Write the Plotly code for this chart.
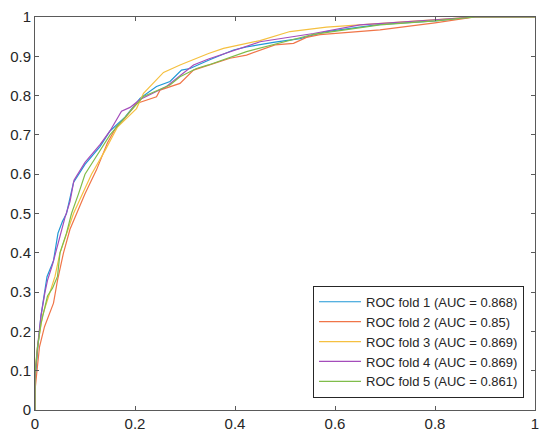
import plotly.graph_objects as go

fold1_fpr = [0, 0, 0.005, 0.012, 0.024, 0.03, 0.037, 0.046, 0.055, 0.063, 0.072, 0.077, 0.10, 0.13, 0.15, 0.18, 0.21, 0.243, 0.27, 0.293, 0.31, 0.347, 0.397, 0.423, 0.48, 0.53, 0.583, 0.69, 0.8, 0.88, 1.0]
fold1_tpr = [0, 0.07, 0.15, 0.24, 0.339, 0.36, 0.38, 0.45, 0.48, 0.50, 0.55, 0.579, 0.625, 0.67, 0.71, 0.745, 0.793, 0.823, 0.836, 0.865, 0.869, 0.89, 0.916, 0.924, 0.936, 0.945, 0.963, 0.981, 0.99, 1.0, 1.0]

fold2_fpr = [0, 0, 0.004, 0.009, 0.019, 0.03, 0.037, 0.045, 0.057, 0.07, 0.083, 0.10, 0.123, 0.145, 0.163, 0.177, 0.203, 0.243, 0.25, 0.29, 0.317, 0.39, 0.423, 0.48, 0.517, 0.543, 0.57, 0.69, 0.8, 0.88, 1.0]
fold2_tpr = [0, 0.05, 0.10, 0.161, 0.212, 0.25, 0.272, 0.33, 0.40, 0.46, 0.50, 0.55, 0.611, 0.68, 0.721, 0.738, 0.78, 0.797, 0.814, 0.831, 0.865, 0.895, 0.903, 0.929, 0.933, 0.948, 0.955, 0.967, 0.985, 1.0, 1.0]

fold3_fpr = [0, 0, 0.006, 0.015, 0.03, 0.04, 0.05, 0.064, 0.077, 0.095, 0.113, 0.14, 0.165, 0.203, 0.217, 0.257, 0.29, 0.347, 0.377, 0.45, 0.51, 0.583, 0.69, 0.8, 0.88, 1.0]
fold3_tpr = [0, 0.1, 0.17, 0.24, 0.30, 0.34, 0.40, 0.45, 0.50, 0.55, 0.60, 0.66, 0.72, 0.767, 0.806, 0.859, 0.878, 0.907, 0.92, 0.94, 0.963, 0.974, 0.984, 0.993, 1.0, 1.0]

fold4_fpr = [0, 0, 0.005, 0.012, 0.02, 0.025, 0.035, 0.047, 0.06, 0.07, 0.078, 0.10, 0.13, 0.15, 0.163, 0.173, 0.19, 0.21, 0.263, 0.297, 0.317, 0.347, 0.45, 0.557, 0.65, 0.8, 0.88, 1.0]
fold4_tpr = [0, 0.08, 0.16, 0.24, 0.30, 0.33, 0.37, 0.43, 0.49, 0.53, 0.585, 0.63, 0.675, 0.71, 0.738, 0.76, 0.77, 0.79, 0.823, 0.857, 0.878, 0.893, 0.937, 0.958, 0.98, 0.993, 1.0, 1.0]

fold5_fpr = [0, 0, 0.005, 0.012, 0.025, 0.035, 0.045, 0.05, 0.063, 0.073, 0.087, 0.1, 0.12, 0.15, 0.17, 0.217, 0.27, 0.29, 0.323, 0.347, 0.423, 0.557, 0.69, 0.8, 0.88, 1.0]
fold5_tpr = [0, 0.09, 0.16, 0.22, 0.29, 0.31, 0.34, 0.40, 0.45, 0.50, 0.55, 0.60, 0.64, 0.70, 0.73, 0.798, 0.827, 0.848, 0.869, 0.878, 0.912, 0.956, 0.98, 0.99, 1.0, 1.0]

labels = ["ROC fold 1 (AUC = 0.868)", "ROC fold 2 (AUC = 0.85)", "ROC fold 3 (AUC = 0.869)",
          "ROC fold 4 (AUC = 0.869)", "ROC fold 5 (AUC = 0.861)"]
colors = ["#1f97d6", "#f07548", "#f5c040", "#a44cbb", "#7fbd4a"]

xs = [fold1_fpr, fold2_fpr, fold3_fpr, fold4_fpr, fold5_fpr]
ys = [fold1_tpr, fold2_tpr, fold3_tpr, fold4_tpr, fold5_tpr]

x_ticks = [0, 0.2, 0.4, 0.6, 0.8, 1]
y_ticks = [0, 0.1, 0.2, 0.3, 0.4, 0.5, 0.6, 0.7, 0.8, 0.9, 1]

fig = go.Figure()
for x, y, lab, c in zip(xs, ys, labels, colors):
    fig.add_trace(go.Scatter(x=x, y=y, mode="lines", name=lab,
                             line=dict(color=c, width=1.2)))

axis_common = dict(showgrid=False, zeroline=False, showline=True, linecolor="#5a5a5a",
                   linewidth=1, mirror="ticks", ticks="inside", ticklen=4,
                   tickcolor="#5a5a5a", automargin=False,
                   tickfont=dict(family="Arial, Liberation Sans", size=15, color="#262626"))

fig.update_layout(
    width=542, height=435,
    margin=dict(l=27, r=15, t=9, b=33),
    paper_bgcolor="white", plot_bgcolor="white",
    xaxis=dict(range=[0, 1], tickvals=x_ticks, **axis_common),
    yaxis=dict(range=[0, 1], tickvals=y_ticks, **axis_common),
    legend=dict(x=0.978, y=0.031, xanchor="right", yanchor="bottom",
                bgcolor="white", bordercolor="#262626", borderwidth=1,
                font=dict(family="Arial, Liberation Sans", size=13, color="#262626"),
                itemwidth=42, tracegroupgap=0),
    showlegend=True,
)

fig.write_html("out.html")
